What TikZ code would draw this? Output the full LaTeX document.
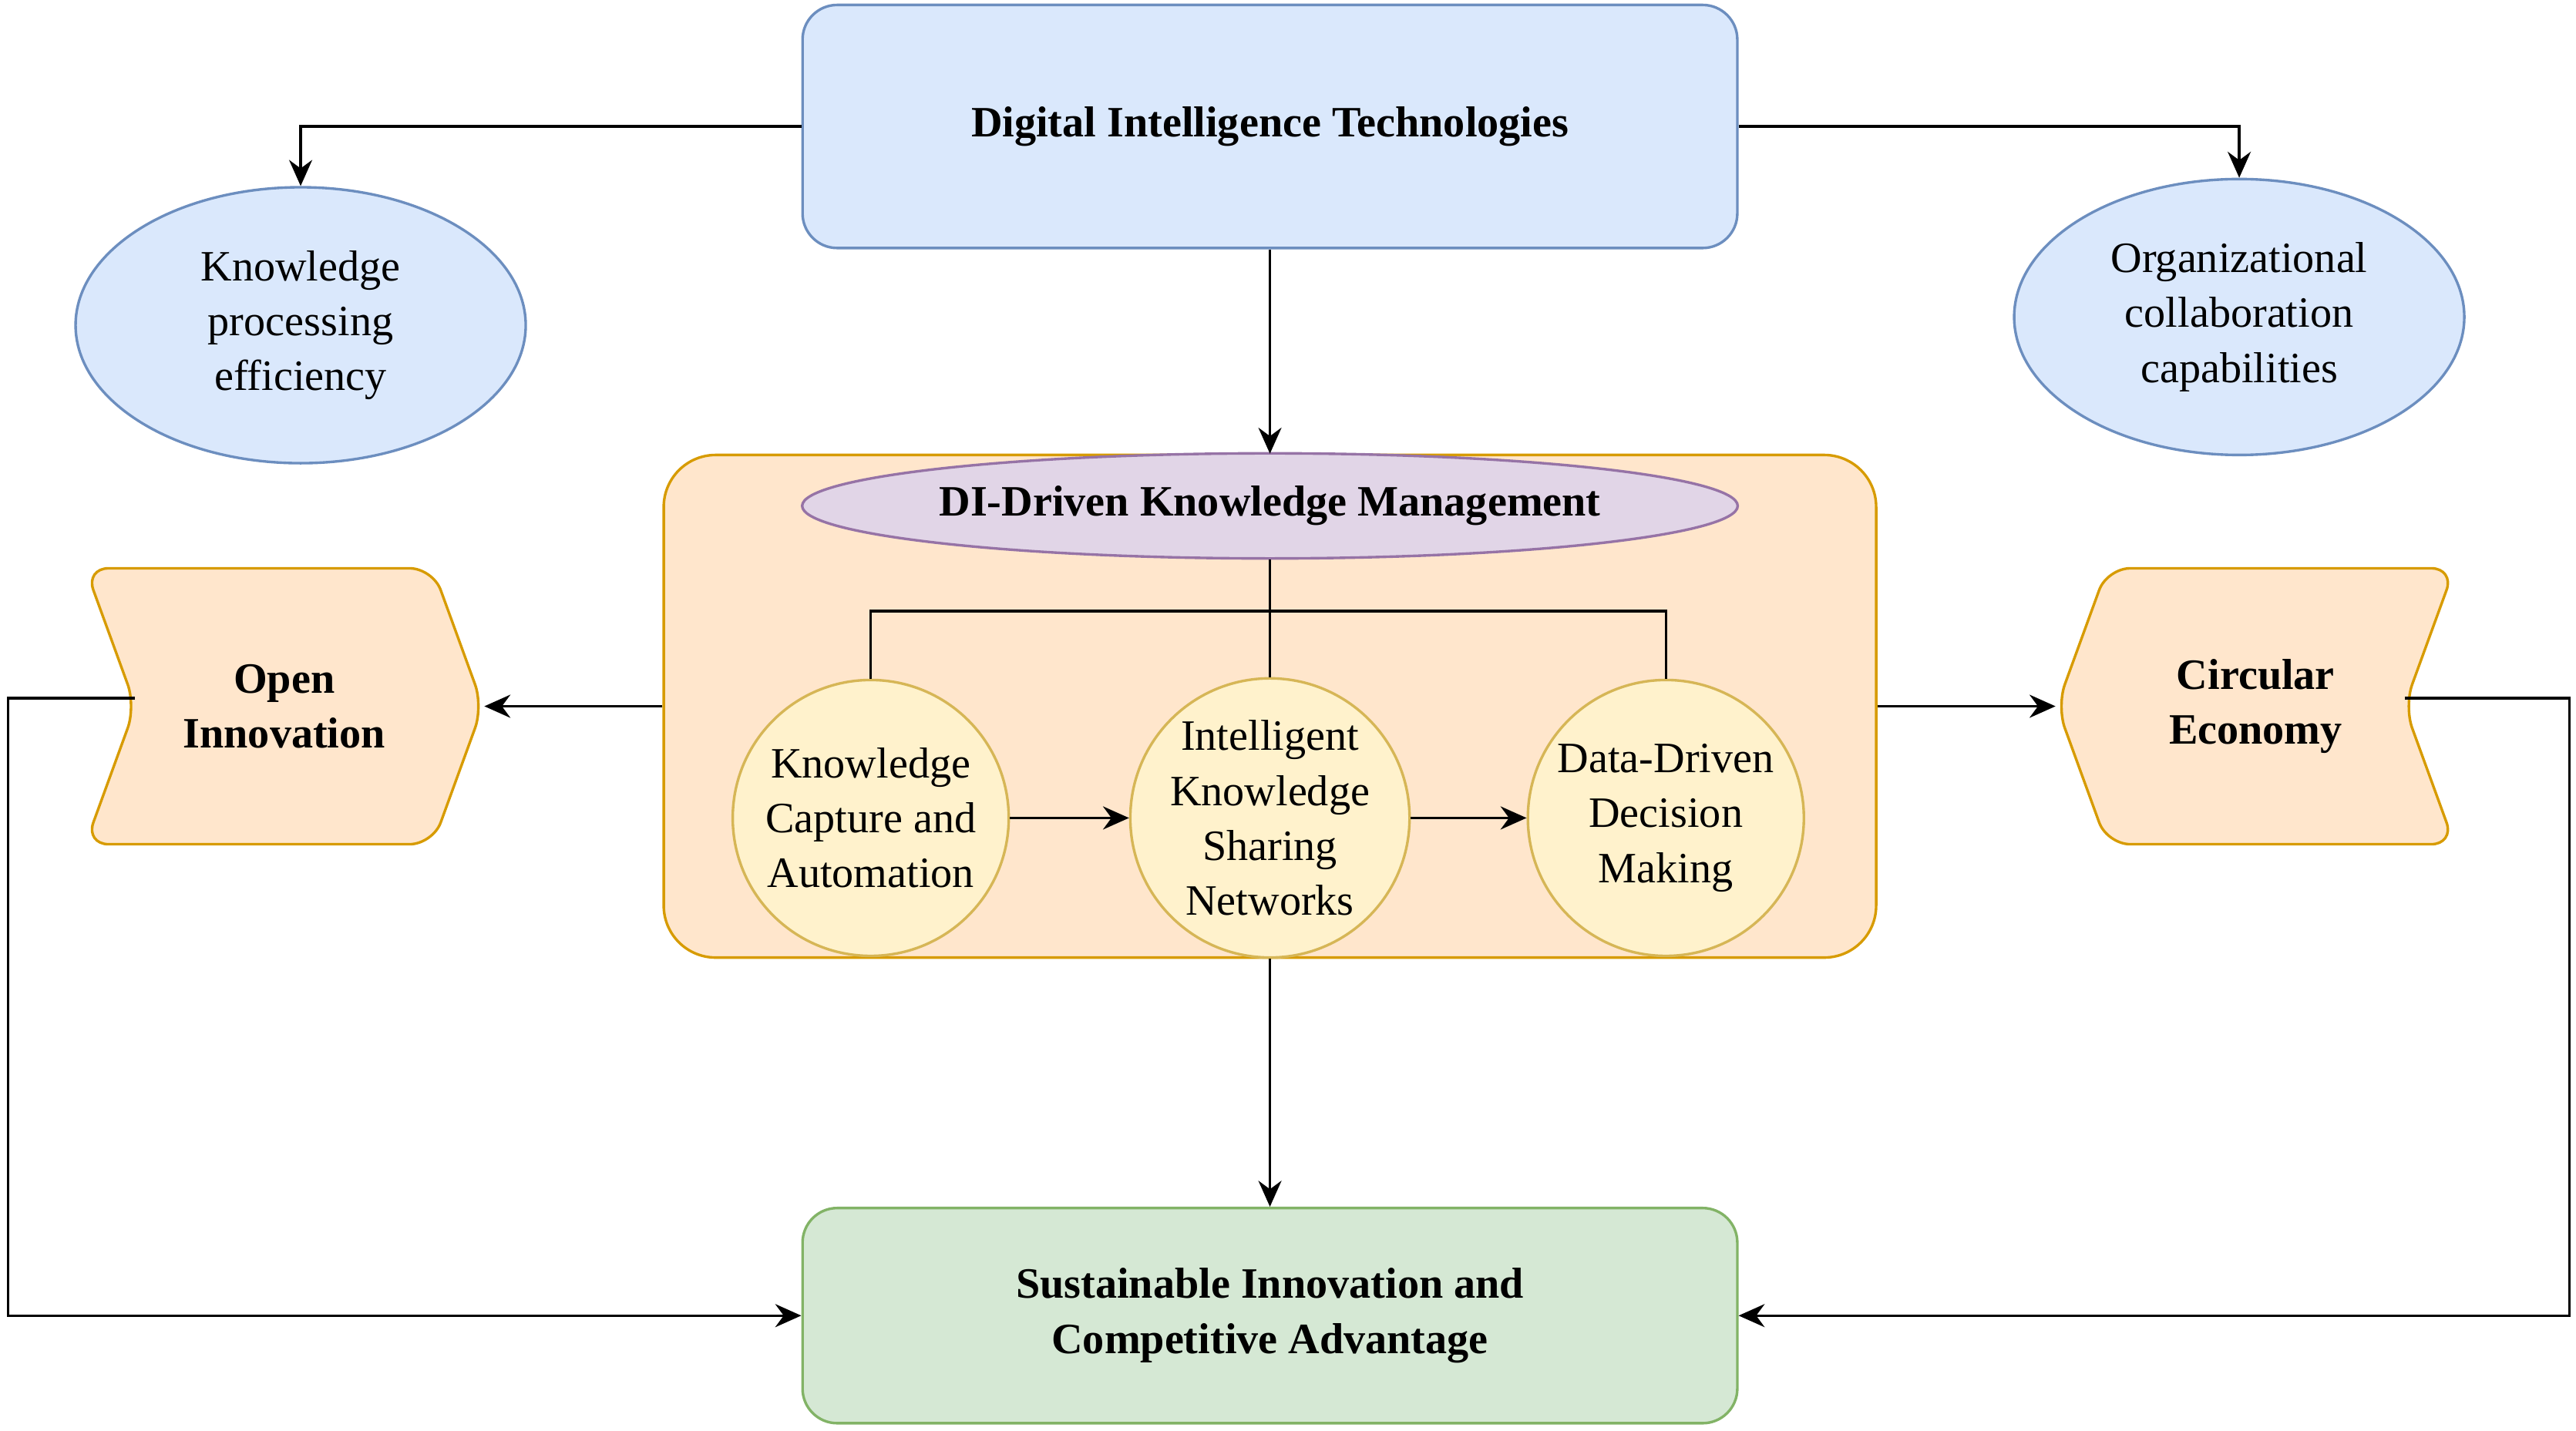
\documentclass[tikz,border=0pt]{standalone}
\usepackage{fontspec}
\setmainfont{Liberation Serif}
\usetikzlibrary{positioning, shapes.geometric, shapes.symbols, arrows.meta}
\definecolor{dblue}{HTML}{DAE8FC}\definecolor{dblueb}{HTML}{6C8EBF}
\definecolor{dorange}{HTML}{FFE6CC}\definecolor{dorangeb}{HTML}{D79B00}
\definecolor{dpurple}{HTML}{E1D5E7}\definecolor{dpurpleb}{HTML}{9673A6}
\definecolor{dyellow}{HTML}{FFF2CC}\definecolor{dyellowb}{HTML}{D6B656}
\definecolor{dgreen}{HTML}{D5E8D4}\definecolor{dgreenb}{HTML}{82B366}
\tikzset{
  every node/.style={font=\fontsize{15}{19}\selectfont, align=center},
  conn/.style={line width=0.9pt, -{Stealth[length=9pt,width=8pt]}},
  link/.style={line width=0.9pt},
  techbox/.style={draw=dblueb, fill=dblue, rounded corners=12pt, line width=0.9pt,
                  minimum width=569*0.2mm, minimum height=148*0.2mm, font=\fontsize{15}{19}\selectfont\bfseries},
  effect/.style={ellipse, draw=dblueb, fill=dblue, line width=0.9pt,
                 minimum width=274*0.2mm, minimum height=168*0.2mm, inner sep=0pt},
  kmbox/.style={draw=dorangeb, fill=dorange, rounded corners=18pt, line width=0.9pt,
                minimum width=738*0.2mm, minimum height=306*0.2mm},
  kmtitle/.style={ellipse, draw=dpurpleb, fill=dpurple, line width=0.9pt,
                  minimum width=486*0.2mm, minimum height=64*0.2mm, inner sep=0pt,
                  font=\fontsize{15}{19}\selectfont\bfseries},
  stage/.style={circle, draw=dyellowb, fill=dyellow, line width=0.9pt,
                minimum size=168*0.2mm, inner sep=0pt},
  flag/.style={signal, draw=dorangeb, fill=dorange, line width=0.9pt, rounded corners=8pt,
               signal pointer angle=140, minimum width=242*0.2mm, minimum height=168*0.2mm,
               inner sep=0pt, font=\fontsize{15}{19}\selectfont\bfseries},
  outcome/.style={draw=dgreenb, fill=dgreen, rounded corners=12pt, line width=0.9pt,
                  minimum width=569*0.2mm, minimum height=131*0.2mm, font=\fontsize{15}{19}\selectfont\bfseries}
}
\begin{document}
\begin{tikzpicture}[x=0.2mm, y=-0.2mm]
    \useasboundingbox (0,0) rectangle (1568,871);

    \node[techbox] (dit) at (773,77) {Digital Intelligence Technologies};
    \node[effect] (kpe) at (183,198) {Knowledge\\processing\\efficiency};
    \node[effect] (occ) at (1363,193) {Organizational\\collaboration\\capabilities};

    \node[kmbox] (km) at (773,430) {};
    \node[kmtitle] (kmt) at (773,308) {DI-Driven Knowledge Management};
    \node[stage] (cap) at (530,498) {Knowledge\\Capture and\\Automation};
    \node[stage] (share) at (773,498) {Intelligent\\Knowledge\\Sharing\\Networks};
    \node[stage] (dec) at (1014,498) {Data-Driven\\Decision\\Making};

    \node[flag, signal from=west, signal to=east] (oi) at (173,430) {Open\\Innovation};
    \node[flag, signal from=east, signal to=west] (ce) at (1373,430) {Circular\\Economy};
    \coordinate (oinotch) at (82,425);
    \coordinate (cenotch) at (1464,425);

    \node[outcome] (sia) at (773,801) {Sustainable Innovation and\\Competitive Advantage};

    \draw[conn] (dit.west) -| (kpe.north);
    \draw[conn] (dit.east) -| (occ.north);
    \draw[conn] (dit.south) -- (km.north);

    \draw[link] (kmt.south) -- (share.north);
    \draw[link] (cap.north) |- (773,372) -| (dec.north);
    \draw[conn] (cap.east) -- (share.west);
    \draw[conn] (share.east) -- (dec.west);

    \draw[conn] (km.west) -- (oi.east);
    \draw[conn] (km.east) -- (ce.west);
    \draw[conn] (km.south) -- (sia.north);

    \draw[conn] (oinotch) -- (5,425) |- (sia.west);
    \draw[conn] (cenotch) -- (1564,425) |- (sia.east);
\end{tikzpicture}
\end{document}
